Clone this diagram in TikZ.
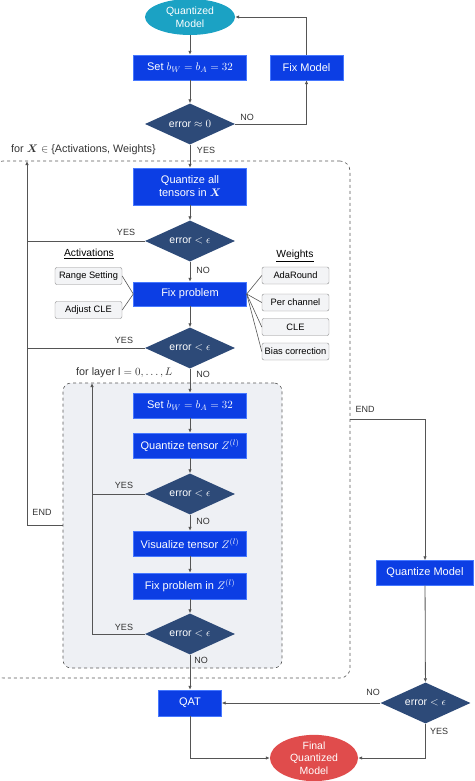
\documentclass[tikz,border=0pt]{standalone}
\usepackage{amsmath}
\usepackage{fontspec}
\setmainfont{Liberation Sans}
\usetikzlibrary{shapes.geometric,arrows.meta}
\definecolor{stepblue}{RGB}{12,62,228}
\definecolor{stepedge}{RGB}{70,120,255}
\definecolor{testnavy}{RGB}{45,74,120}
\definecolor{startteal}{RGB}{27,162,196}
\definecolor{endred}{RGB}{224,76,76}
\definecolor{wire}{RGB}{85,85,85}
\definecolor{optfill}{RGB}{243,244,246}
\definecolor{layerfill}{RGB}{238,240,244}

\begin{document}
\begin{tikzpicture}[x=1pt, y=-1pt,
	stepbox/.style={draw=stepedge, fill=stepblue, text=white, font=\fontsize{11}{13}\selectfont, minimum width=113pt, minimum height=25pt, inner sep=1pt, align=center},
	testbox/.style={diamond, fill=testnavy, text=white, font=\fontsize{10.5}{12}\selectfont, minimum width=90pt, minimum height=41pt, aspect=2.2, inner sep=0pt},
	termbox/.style={ellipse, text=white, font=\fontsize{10.5}{12.5}\selectfont, minimum width=90pt, minimum height=36pt, inner sep=0pt, align=center},
	optbox/.style={draw=black!45, fill=optfill, rounded corners=2pt, font=\fontsize{9.3}{11}\selectfont, minimum width=67pt, minimum height=17pt, inner sep=1pt},
	tag/.style={font=\fontsize{9}{10}\selectfont, text=black!80, inner sep=1pt},
	wire/.style={draw=wire, line width=0.8pt},
	flow/.style={wire, -{Latex[length=4pt,width=3.5pt]}}]
			%%%%% START %%%%%
			\useasboundingbox (0,0) rectangle (474,781);
			
			\node[draw=black!65, dashed, rounded corners=10pt, minimum width=357pt, minimum height=517pt, line width=0.6pt] (outer) at (171.5, 419.5) {};
			\node[draw=black!65, dashed, fill=layerfill, rounded corners=8pt, minimum width=219pt, minimum height=285pt, line width=0.6pt] (inner) at (172.5, 525.5) {};
			
			\node[termbox, fill=startteal] (start) at (190, 17) {Quantized\\Model};
			\node[stepbox] (setA) at (190, 67.5) {Set $b_W = b_A = 32$};
			\node[stepbox, minimum width=73pt] (fixm) at (306.5, 67.5) {Fix Model};
			\node[testbox] (zero) at (190, 124) {error $\approx 0$};
			
			\node[tag, anchor=west] at (10, 150) {\fontsize{10.8}{12}\selectfont for $\boldsymbol{X} \in$ \{Activations, Weights\}};
			\node[stepbox, minimum height=37pt] (qall) at (190, 186.5) {Quantize all\\tensors in $\boldsymbol{X}$};
			\node[testbox] (tstA) at (190, 241) {error $< \epsilon$};
			
			\node[font=\fontsize{10.3}{12}\selectfont] at (89, 254) {\underline{Activations}};
			\node[font=\fontsize{10.3}{12}\selectfont] at (295, 256) {\underline{Weights}};
			\node[stepbox, minimum height=24pt] (fixp) at (190, 294) {Fix problem};
			\node[optbox] (range) at (88.5, 276) {Range Setting};
			\node[optbox] (adjust) at (88.5, 310) {Adjust CLE};
			\node[optbox] (ada) at (295.5, 275.5) {AdaRound};
			\node[optbox] (perch) at (295.5, 302.5) {Per channel};
			\node[optbox] (cle) at (295.5, 327) {CLE};
			\node[optbox] (bias) at (295.5, 351.5) {Bias correction};
			\node[testbox] (tstB) at (190, 348) {error $< \epsilon$};
			
			\node[tag, anchor=west] at (75, 373) {\fontsize{10.8}{12}\selectfont for layer $\mathrm{l} = 0, \dots, L$};
			\node[stepbox] (setB) at (190, 405.5) {Set $b_W = b_A = 32$};
			\node[stepbox] (qz) at (190, 445.5) {Quantize tensor $Z^{(l)}$};
			\node[testbox] (tstC) at (190, 494) {error $< \epsilon$};
			\node[stepbox] (vis) at (190, 543.5) {Visualize tensor $Z^{(l)}$};
			\node[stepbox, minimum height=26pt] (fixz) at (190, 586) {Fix problem in $Z^{(l)}$};
			\node[testbox] (tstD) at (190, 634) {error $< \epsilon$};
			
			\node[stepbox, minimum width=63pt, minimum height=26pt] (qat) at (190, 703) {QAT};
			\node[stepbox, minimum width=97pt] (qmod) at (425, 573) {Quantize Model};
			\node[testbox] (tstE) at (425.5, 703) {error $< \epsilon$};
			\node[termbox, fill=endred, minimum width=88pt, minimum height=44pt] (final) at (314, 758) {Final\\Quantized\\Model};
			
			\coordinate (backA) at (27, 161);
			\coordinate (backB) at (92, 383);
			
			% main flow
			\draw[flow] (start) -- (setA);
			\draw[flow] (setA) -- (zero);
			\draw[flow] (zero.east) -| (fixm.south);
			\draw[flow] (fixm.north) |- (start.east);
			\draw[flow] (zero) -- (qall);
			\draw[flow] (qall) -- (tstA);
			\draw[flow] (tstA) -- (fixp);
			\draw[flow] (fixp) -- (tstB);
			\draw[flow] (tstB) -- (setB);
			\draw[flow] (setB) -- (qz);
			\draw[flow] (qz) -- (tstC);
			\draw[flow] (tstC) -- (vis);
			\draw[flow] (vis) -- (fixz);
			\draw[flow] (fixz) -- (tstD);
			\draw[flow] (tstD) -- (qat);
			
			% loops back
			\draw[flow] (inner.west) -- (inner.west -| backA) -- (backA);
			\draw[wire] (tstA.west) -- (tstA.west -| backA);
			\draw[wire] (tstB.west) -- (tstB.west -| backA);
			\draw[flow] (tstD.west) -- (tstD.west -| backB) -- (backB);
			\draw[wire] (tstC.west) -- (tstC.west -| backB);
			
			% options
			\draw[wire, line width=0.6pt] (fixp.west) -- (range.east);
			\draw[wire, line width=0.6pt] (fixp.west) -- (adjust.east);
			\foreach \opt in {ada, perch, cle, bias}
				\draw[wire, line width=0.6pt] (fixp.east) -- (\opt.west);
			
			% right branch
			\draw[flow] (outer.east) -| (qmod.north);
			\draw[flow] (qmod) -- (tstE);
			\draw[flow] (tstE.west) -- (qat.east);
			\draw[flow] (tstE.south) |- (final.east);
			\draw[flow] (qat.south) |- (final.west);
			
			% branch labels
			\node[tag] at (247, 117) {NO};
			\node[tag] at (206, 150) {YES};
			\node[tag] at (126, 232) {YES};
			\node[tag] at (203, 270) {NO};
			\node[tag] at (124, 340) {YES};
			\node[tag] at (203, 374) {NO};
			\node[tag] at (124, 485) {YES};
			\node[tag] at (203, 521) {NO};
			\node[tag] at (124, 627) {YES};
			\node[tag] at (201, 660) {NO};
			\node[tag] at (42, 512) {END};
			\node[tag] at (365, 409) {END};
			\node[tag] at (373, 692) {NO};
			\node[tag] at (439, 731) {YES};
			%%%%% END %%%%%
\end{tikzpicture}
\end{document}
